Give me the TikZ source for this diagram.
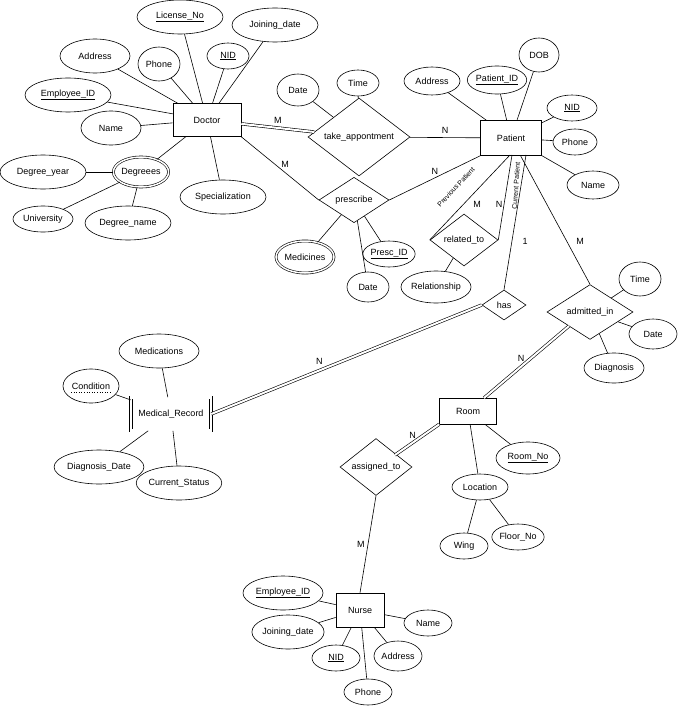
\documentclass[tikz,border=0pt]{standalone}
\usepackage{fontspec}
\setmainfont{Liberation Sans}
\usetikzlibrary{shapes.geometric,calc}
\begin{document}
\begin{tikzpicture}[x=1pt,y=-1pt,
  every node/.style={font=\fontsize{9}{11}\selectfont, inner sep=0pt},
  ent/.style={draw, rectangle, fill=white},
  att/.style={draw, ellipse, fill=white},
  rel/.style={draw, diamond, fill=white},
  dbl/.style={double, double distance=2pt},
  lbl/.style={font=\fontsize{9}{10}\selectfont},
  small/.style={font=\fontsize{7}{8}\selectfont},
  every path/.style={line width=0.6pt}]
\useasboundingbox (0,0) rectangle (680,706);
% Doctor
\node[ent,minimum width=68,minimum height=33] (doc) at (207,120) {Doctor};
\node[att,minimum width=86,minimum height=34] (lic) at (180,17) {\underline{License\_No}};
\node[att,minimum width=86,minimum height=34] (jd) at (275,25) {Joining\_date};
\node[att,minimum width=42,minimum height=26] (dnid) at (228,56) {\underline{NID}};
\node[att,minimum width=42,minimum height=34] (dph) at (159,64) {Phone};
\node[att,minimum width=70,minimum height=34] (dadd) at (95,56) {Address};
\node[att,minimum width=86,minimum height=34] (deid) at (68,95) {\underline{Employee\_ID}};
\node[att,minimum width=60,minimum height=34] (dname) at (111,128) {Name};
\node[att,double,double distance=1.5pt,minimum width=54,minimum height=30] (deg) at (141,172) {Degreees};
\node[att,minimum width=86,minimum height=34] (dy) at (43,172) {Degree\_year};
\node[att,minimum width=60,minimum height=26] (uni) at (43,219) {University};
\node[att,minimum width=86,minimum height=34] (dn) at (128,223) {Degree\_name};
\node[att,minimum width=86,minimum height=34] (spec) at (223,197) {Specialization};
\foreach \a in {lic,jd,dnid,dph,dadd,deid,dname,deg,spec} \draw (doc) -- (\a);
\foreach \a in {dy,uni,dn} \draw (deg) -- (\a);
% take_appontment
\node[rel,minimum width=102,minimum height=52] (take) at (359,137) {take\_appontment};
\node[att,minimum width=42,minimum height=32] (tdate) at (298,90) {Date};
\node[att,minimum width=42,minimum height=26] (ttime) at (358,83) {Time};
\draw (take) -- (tdate); \draw (take) -- (ttime);
% Patient
\node[ent,minimum width=61,minimum height=35] (pat) at (511,138) {Patient};
\node[att,minimum width=56,minimum height=28] (padd) at (432,81) {Address};
\node[att,minimum width=52,minimum height=28] (pid) at (497,80) {\underline{Patient\_ID}};
\node[att,minimum width=40,minimum height=34] (dob) at (539,55) {DOB};
\node[att,minimum width=50,minimum height=26] (pnid) at (572,108) {\underline{NID}};
\node[att,minimum width=44,minimum height=26] (pph) at (575,142) {Phone};
\node[att,minimum width=52,minimum height=28] (pname) at (593,185) {Name};
\foreach \a in {padd,pid,dob,pnid,pph,pname} \draw (pat) -- (\a);
\draw[dbl] (doc) -- node[lbl,pos=0.5,above=4pt] {M} (take);
\draw (take) -- node[lbl,above=4pt] {N} (pat);
% prescribe
\node[rel,minimum width=70,minimum height=38] (pres) at (354,200) {prescribe};
\node[att,double,double distance=1.5pt,minimum width=58,minimum height=32] (med) at (305,257) {Medicines};
\node[att,minimum width=42,minimum height=30] (prdate) at (368,287) {Date};
\node[att,minimum width=46,minimum height=26] (prid) at (389,254) {\underline{Presc\_ID}};
\foreach \a in {med,prdate,prid} \draw (pres) -- (\a);
\draw (doc.south east) -- node[lbl,pos=0.5,above right=1pt] {M} (pres.west);
\draw (pres.east) -- node[lbl,pos=0.5,above=3pt] {N} (pat.south west);
% related_to
\node[rel,minimum width=68,minimum height=52] (relt) at (464,240) {related\_to};
\node[att,minimum width=62,minimum height=32] (rship) at (436,287) {Relationship};
\draw (relt) -- (rship);
\coordinate (pb) at (510,155);
\coordinate (pc) at (512,155);
\draw (relt.west) -- (pb);
\draw (relt.east) -- (pc);
\node[small,rotate=47] (prevlbl) at (456,187) {Previous Patient};
\node[small,rotate=86] (curlbl) at (516,186) {Current Patient};
\node[lbl] at (477,204) {M};
\node[lbl] at (499,204) {N};
% has
\node[rel,minimum width=44,minimum height=30] (has) at (504,305) {has};
\coordinate (pb2) at (526,155);
\draw (pb2) -- (has.north);
\node[lbl] at (525,241) {1};
% admitted_in
\node[rel,minimum width=86,minimum height=44] (adm) at (590,312) {admitted\_in};
\node[att,minimum width=42,minimum height=34] (atime) at (640,279) {Time};
\node[att,minimum width=48,minimum height=30] (adate) at (653,334) {Date};
\node[att,minimum width=60,minimum height=30] (adiag) at (614,368) {Diagnosis};
\foreach \a in {atime,adate,adiag} \draw (adm) -- (\a);
\draw (pat) -- (adm.north);
\node[lbl] at (580,241) {M};
% Medical record
\node[ent,double,double distance=2.5pt,minimum width=80,minimum height=33] (mr) at (171,414) {\,Medical\_Record\,};
\node[att,minimum width=80,minimum height=34] (meds) at (159,351) {Medications};
\node[att,minimum width=56,minimum height=34] (cond) at (91,386) {Condition};
\draw[dotted] ($(cond.center)+(-20,6)$) -- ($(cond.center)+(20,6)$);
\node[att,minimum width=80,minimum height=34] (ddate) at (99,467) {Diagnosis\_Date};
\node[att,minimum width=80,minimum height=34] (cstat) at (179,483) {Current\_Status};
\foreach \a in {meds,cond,ddate,cstat} \draw (mr) -- (\a);
\draw[dbl] (mr.east) -- node[lbl,pos=0.4,above=6pt] {N} (has.west);
% Room
\node[ent,minimum width=57,minimum height=26] (room) at (468,411) {Room};
\node[att,minimum width=64,minimum height=32] (rno) at (528,458) {\underline{Room\_No}};
\node[att,minimum width=56,minimum height=26] (loc) at (480,487) {Location};
\node[att,minimum width=48,minimum height=26] (wing) at (464,546) {Wing};
\node[att,minimum width=50,minimum height=26] (fno) at (518,537) {Floor\_No};
\draw (room) -- (rno); \draw (room) -- (loc);
\draw (loc) -- (wing); \draw (loc) -- (fno);
\coordinate (admb) at (569,326);
\coordinate (roomt) at (484,398);
\draw[dbl] (admb) -- node[lbl,pos=0.45,left=6pt] {N} (roomt);
% assigned_to
\node[rel,minimum width=72,minimum height=52] (asg) at (376,467) {assigned\_to};
\coordinate (asgr) at (395,455);
\draw[dbl] (room.south west) -- node[lbl,pos=0.5,above left=1pt] {N} (asgr);
% Nurse
\node[ent,minimum width=48,minimum height=34] (nur) at (360,610) {Nurse};
\node[att,minimum width=80,minimum height=34] (neid) at (283,593) {\underline{Employee\_ID}};
\node[att,minimum width=72,minimum height=34] (njd) at (288,632) {Joining\_date};
\node[att,minimum width=48,minimum height=26] (nnid) at (336,658) {\underline{NID}};
\node[att,minimum width=48,minimum height=30] (nadd) at (398,656) {Address};
\node[att,minimum width=48,minimum height=26] (nname) at (428,623) {Name};
\node[att,minimum width=48,minimum height=26] (nph) at (368,692) {Phone};
\foreach \a in {neid,njd,nnid,nadd,nname,nph} \draw (nur) -- (\a);
\draw (asg.south) -- node[lbl,pos=0.5,left=3pt] {M} (nur.north);
\end{tikzpicture}
\end{document}
